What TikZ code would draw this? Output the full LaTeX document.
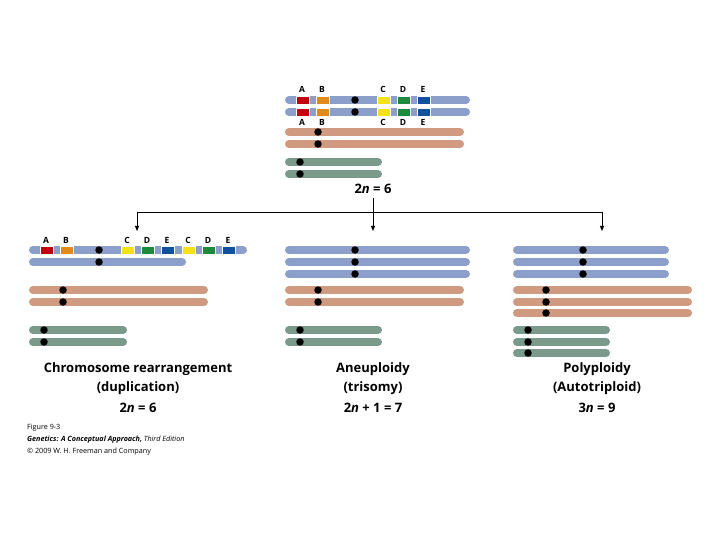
\documentclass[tikz,border=0pt]{standalone}
\usepackage{fontspec}
\setmainfont{Open Sans}
\usetikzlibrary{arrows.meta}
\definecolor{cb}{HTML}{8C9FCB}\definecolor{cbr}{HTML}{CF9A80}\definecolor{cg}{HTML}{7A9A8C}
\definecolor{bA}{HTML}{C00010}\definecolor{bB}{HTML}{E08A1C}\definecolor{bC}{HTML}{F5E11A}
\definecolor{bD}{HTML}{1E8A3C}\definecolor{bE}{HTML}{1050A0}
\tikzset{chr/.style={line width=8pt,line cap=round},
 cen/.style={circle,fill=black,inner sep=0pt,minimum size=7.5pt},
 band/.style={fill=#1,draw=white,line width=0.8pt},
 lab/.style={font=\bfseries\fontsize{8.5}{9}\selectfont,inner sep=0pt},
 ttl/.style={font=\bfseries\fontsize{13}{15}\selectfont,inner sep=0pt},
 foot/.style={font=\fontsize{7.2}{8}\selectfont,inner sep=0pt,anchor=west}}
\newcommand{\chrom}[5]{\draw[chr,#1] (#2,#3) -- (#4,#3); \node[cen] at (#5,#3) {};}
\newcommand{\bnd}[4]{\draw[band=#1] (#2,#3-4) rectangle (#2+13,#3+4);}
\begin{document}
\begin{tikzpicture}[x=1pt,y=-1pt]
\useasboundingbox[fill=white] (0,0) rectangle (720,540);
% top
\foreach \y in {100,112}{\draw[chr,cb] (289,\y) -- (466,\y);
 \bnd{bA}{296}{\y}{} \bnd{bB}{316}{\y}{} \bnd{bC}{377}{\y}{} \bnd{bD}{397}{\y}{} \bnd{bE}{417}{\y}{}
 \node[cen] at (355,\y) {};}
\foreach \l/\x in {A/302,B/322,C/383,D/403,E/423}{\node[lab] at (\x,89) {\l}; \node[lab] at (\x,122) {\l};}
\foreach \y in {132,144}{\chrom{cbr}{289}{\y}{460}{318}}
\foreach \y in {162,174}{\chrom{cg}{289}{\y}{378}{300}}
\node[ttl] (top) at (373,189) {2\textit{n} = 6};
% arrows
\coordinate (s) at (373,198); \coordinate (j) at (373,212);
\coordinate (l) at (137,212); \coordinate (r) at (602,212);
\coordinate (lt) at (137,231); \coordinate (mt) at (373,231); \coordinate (rt) at (602,231);
\draw[line width=0.9pt] (s) -- (j); \draw[line width=0.9pt] (l) -- (r);
\draw[line width=0.9pt,-{Triangle[length=5pt,width=4pt]}] (l) -- (lt);
\draw[line width=0.9pt,-{Triangle[length=5pt,width=4pt]}] (j) -- (mt);
\draw[line width=0.9pt,-{Triangle[length=5pt,width=4pt]}] (r) -- (rt);
% left
\draw[chr,cb] (33,250) -- (243,250);
\foreach \c/\x in {bA/40,bB/60,bC/121,bD/141,bE/161,bC/182,bD/202,bE/222}{\bnd{\c}{\x}{250}{}}
\node[cen] at (99,250) {};
\foreach \l/\x in {A/46,B/66,C/127,D/147,E/167,C/188,D/208,E/228}{\node[lab] at (\x,240) {\l};}
\chrom{cb}{33}{262}{182}{99}
\foreach \y in {290,302}{\chrom{cbr}{33}{\y}{204}{63}}
\foreach \y in {330,342}{\chrom{cg}{33}{\y}{123}{44}}
\node[ttl] (t1) at (138,369) {Chromosome rearrangement};
\node[ttl] (t2) at (138,388) {(duplication)};
\node[ttl] (t3) at (138,408) {2\textit{n} = 6};
% middle
\foreach \y in {250,262,274}{\chrom{cb}{289}{\y}{466}{355}}
\foreach \y in {290,302}{\chrom{cbr}{289}{\y}{460}{318}}
\foreach \y in {330,342}{\chrom{cg}{289}{\y}{378}{300}}
\node[ttl] (m1) at (373,369) {Aneuploidy};
\node[ttl] (m2) at (373,388) {(trisomy)};
\node[ttl] (m3) at (373,408) {2\textit{n} + 1 = 7};
% right
\foreach \y in {250,262,274}{\chrom{cb}{517}{\y}{665}{583}}
\foreach \y in {290,302,313}{\chrom{cbr}{517}{\y}{688}{546}}
\foreach \y in {330,342,353}{\chrom{cg}{517}{\y}{606}{528}}
\node[ttl] (r1) at (597,369) {Polyploidy};
\node[ttl] (r2) at (597,388) {(Autotriploid)};
\node[ttl] (r3) at (597,408) {3\textit{n} = 9};
% footer
\node[foot] (f1) at (27,428) {Figure 9-3};
\node[foot] (f2) at (27,440) {\bfseries\itshape Genetics: A Conceptual Approach, \normalfont\itshape Third Edition};
\node[foot] (f3) at (27,452) {\textcopyright{} 2009 W. H. Freeman and Company};
\end{tikzpicture}
\end{document}
